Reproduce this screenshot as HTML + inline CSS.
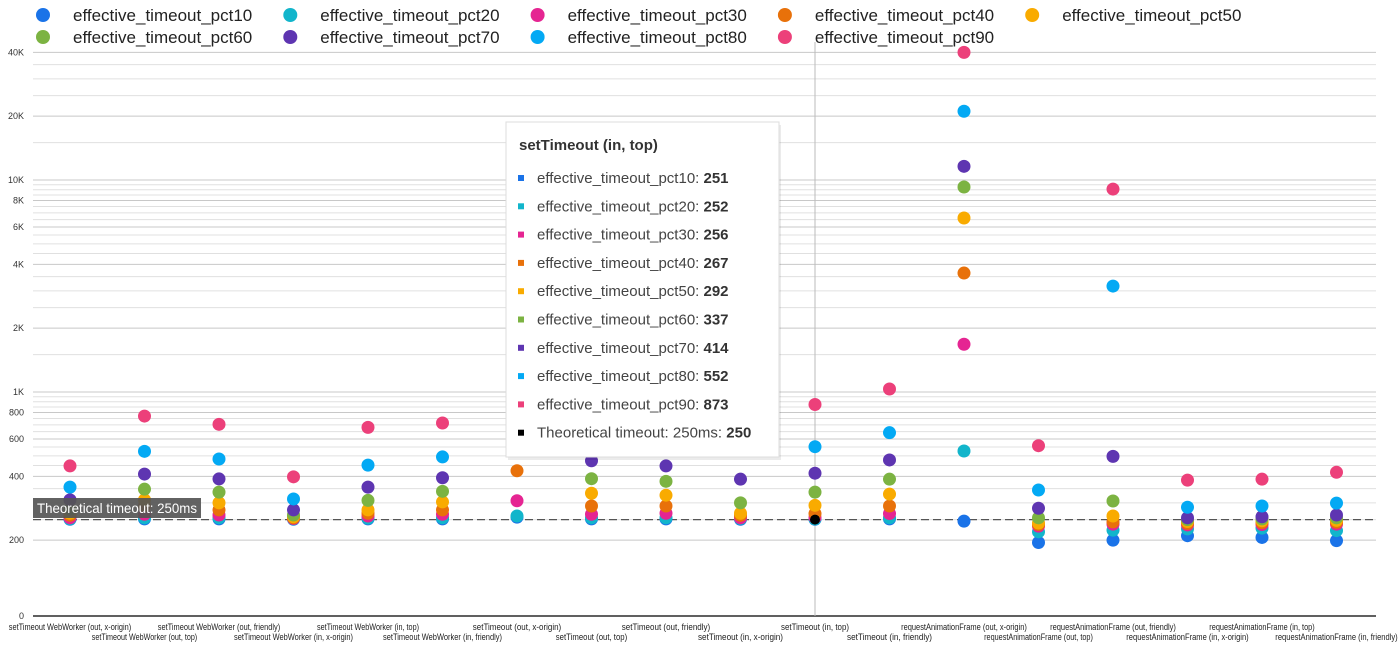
<!DOCTYPE html>
<html><head><meta charset="utf-8"><style>
html,body{margin:0;padding:0;background:#fff;}
svg{display:block;font-family:"Liberation Sans",sans-serif;}
</style></head><body>
<svg id="chart" width="1400" height="653" viewBox="0 0 1400 653"></svg>
<script>
const categories = ["setTimeout WebWorker (out, x-origin)","setTimeout WebWorker (out, top)","setTimeout WebWorker (out, friendly)","setTimeout WebWorker (in, x-origin)","setTimeout WebWorker (in, top)","setTimeout WebWorker (in, friendly)","setTimeout (out, x-origin)","setTimeout (out, top)","setTimeout (out, friendly)","setTimeout (in, x-origin)","setTimeout (in, top)","setTimeout (in, friendly)","requestAnimationFrame (out, x-origin)","requestAnimationFrame (out, top)","requestAnimationFrame (out, friendly)","requestAnimationFrame (in, x-origin)","requestAnimationFrame (in, top)","requestAnimationFrame (in, friendly)"];
const seriesNames = ["effective_timeout_pct10","effective_timeout_pct20","effective_timeout_pct30","effective_timeout_pct40","effective_timeout_pct50","effective_timeout_pct60","effective_timeout_pct70","effective_timeout_pct80","effective_timeout_pct90"];
const seriesColors = ["#1a73e8","#12b5cb","#e52592","#e8710a","#f9ab00","#7cb342","#5e35b1","#03a9f4","#ec407a"];
const pct10 = [251,252,252,251,252,252,257,252,252,251,251,252,246,195,200,210,206,199];
const pct20 = [252,255,255,252,254,255,260,255,255,253,252,255,527,219,223,226,228,222];
const pct30 = [255,265,263,253,260,265,307,265,268,255,256,267,1680,233,238,236,237,238];
const pct40 = [262,290,278,255,268,278,425,290,290,262,267,290,3640,237,244,240,242,243];
const pct50 = [268,310,300,258,278,303,580,333,326,268,292,330,6620,241,260,245,247,248];
const pct60 = [280,348,337,263,308,340,700,390,379,300,337,388,9270,255,306,250,252,255];
const pct70 = [310,410,389,278,356,394,850,474,448,388,414,478,11600,283,497,255,258,263];
const pct80 = [356,525,483,313,452,494,1200,620,600,550,552,643,21100,345,3160,286,290,299];
const pct90 = [448,770,704,398,681,714,2500,850,820,700,873,1033,40000,558,9060,384,388,418];
const seriesValues = [pct10,pct20,pct30,pct40,pct50,pct60,pct70,pct80,pct90];
const yTickValues = [200,400,600,800,1000,2000,4000,6000,8000,10000,20000,40000];
const yTickLabels = ["200","400","600","800","1K","2K","4K","6K","8K","10K","20K","40K"];
const theoretical = 250;
const hoverIndex = 10;

const NS="http://www.w3.org/2000/svg";
const svg=document.getElementById('chart');
function mk(tag,attrs,parent){const e=document.createElementNS(NS,tag);for(const k in attrs)e.setAttribute(k,attrs[k]);(parent||svg).appendChild(e);return e;}
const X0=33,X1=1376,Y0=616;
function yScale(v){if(v<=0)return Y0;return 392-212*Math.log10(v/1000);}
function xScale(i){return 70+i*74.5;}

const grid=mk('g',{});


const gv=[];
for(let v=200;v<1000;v+=50)gv.push(v);
for(let v=1000;v<10000;v+=500)gv.push(v);
for(let v=10000;v<=40000;v+=5000)gv.push(v);
gv.forEach(v=>{const y=yScale(v);const major=yTickValues.includes(v);
 const l=mk('line',{x1:X0,x2:X1,y1:y,y2:y,stroke:major?'#c8c8c8':'#e0e0e0','stroke-width':1},grid);
 
 });

yTickValues.forEach((v,i)=>{const t=mk('text',{x:24,y:yScale(v)+3,'text-anchor':'end','font-size':9,fill:'#333'});t.textContent=yTickLabels[i];
 
 });
const z=mk('text',{x:24,y:Y0+3,'text-anchor':'end','font-size':9,fill:'#333'});z.textContent='0';



const ax=mk('line',{x1:X0,x2:X1,y1:Y0,y2:Y0,stroke:'#000','stroke-width':1.3});



categories.forEach((c,i)=>{const row=i%2;const t=mk('text',{x:xScale(i),y:row?640:630,'text-anchor':'middle','font-size':9,fill:'#222',textLength:c.length*3.4,lengthAdjust:'spacingAndGlyphs'});t.textContent=c;
 
 });

const ch=mk('line',{x1:xScale(hoverIndex),x2:xScale(hoverIndex),y1:42,y2:Y0,stroke:'#bbb','stroke-width':1});



const ty=yScale(theoretical);
const rl=mk('line',{x1:X0,x2:X1,y1:ty,y2:ty,stroke:'#555','stroke-width':1.3,'stroke-dasharray':'8,4'});



seriesValues.forEach((arr,s)=>{const g=mk('g',{});
 
 
 arr.forEach((v,i)=>{const c=mk('circle',{cx:xScale(i),cy:yScale(v),r:6.5,fill:seriesColors[s]},g);
  
  });});
const bp=mk('circle',{cx:xScale(hoverIndex),cy:ty,r:5,fill:'#000'});



const lg=mk('g',{});


mk('rect',{x:33,y:498,width:168,height:20,fill:'#555','fill-opacity':0.92},lg);
const lt=mk('text',{x:37,y:513,'font-size':14,fill:'#fff',textLength:160,lengthAdjust:'spacingAndGlyphs'},lg);lt.textContent='Theoretical timeout: 250ms';

const leg=mk('g',{});


seriesNames.forEach((n,i)=>{const col=i%5,row=Math.floor(i/5);const x=43+col*247.3,y=15+row*22;
 const e=mk('g',{},leg);
 
 
 mk('circle',{cx:x,cy:y,r:7,fill:seriesColors[i]},e);
 const t=mk('text',{x:x+30,y:y+6,'font-size':17,fill:'#222'},e);t.textContent=n;});

const tip=mk('g',{});


mk('rect',{x:507,y:123,width:273,height:335,fill:'#000','fill-opacity':0.08,transform:'translate(1,2)'},tip);
mk('rect',{x:506,y:122,width:273,height:335,fill:'#fff',stroke:'#ddd','stroke-width':1},tip);
const tt=mk('text',{x:519,y:150,'font-size':15,'font-weight':'bold',fill:'#333'},tip);tt.textContent=categories[hoverIndex];
const tipColors=seriesColors.concat(['#000']);
const tipNames=seriesNames.concat(['Theoretical timeout: 250ms']);
const tipVals=seriesValues.map(a=>a[hoverIndex]).concat([theoretical]);
tipNames.forEach((n,i)=>{const y=178+i*28.3;
 mk('rect',{x:518,y:y-3,width:6,height:6,fill:tipColors[i]},tip);
 const t=mk('text',{x:537,y:y+5,'font-size':15,fill:'#444'},tip);
 t.textContent=n+': ';
 const b=mk('tspan',{'font-weight':'bold',fill:'#333'},t);b.textContent=tipVals[i];});
</script>
</body></html>
